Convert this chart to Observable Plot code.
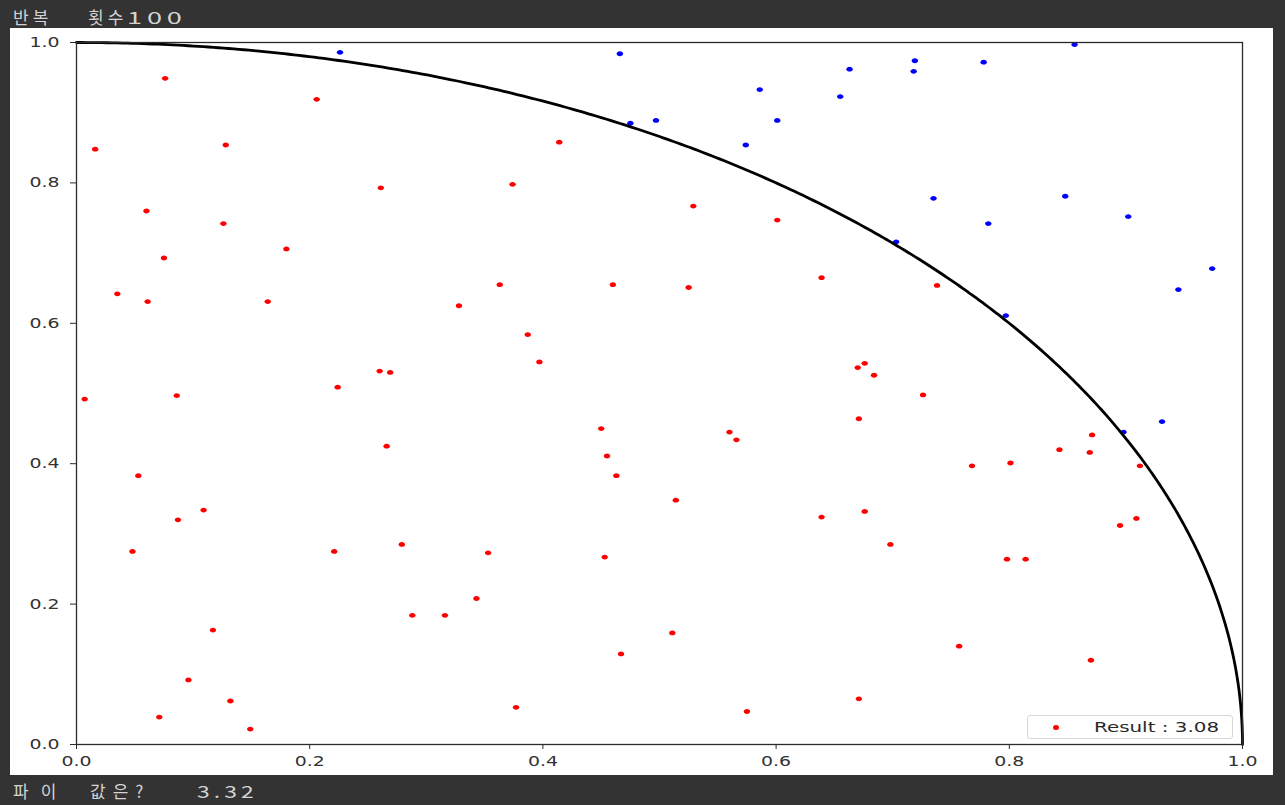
<!DOCTYPE html>
<html>
<head>
<meta charset="utf-8">
<script src="https://cdn.jsdelivr.net/npm/d3@7"></script>
<script src="https://cdn.jsdelivr.net/npm/@observablehq/plot@0.6"></script>
<style>
  html, body { margin: 0; padding: 0; }
  body { width: 1285px; height: 805px; background: #333333; position: relative; overflow: hidden;
         font-family: "Noto Sans CJK KR", "Noto Sans", sans-serif; }
  .cap { position: absolute; color: #d4d4d4; font-size: 17px; line-height: 17px; white-space: pre; }
  .wide { display: inline-block; transform: scaleX(1.6); transform-origin: 0 50%; letter-spacing: 3px; }
  #panel { position: absolute; left: 10px; top: 28px; width: 1263px; height: 747px; background: #ffffff; }
  #legend { position: absolute; left: 1017px; top: 687px; width: 204px; height: 22px;
            border: 1px solid #d6d6d6; border-radius: 3px; background: rgba(255,255,255,0.85); }
  #legend .dot { position: absolute; left: 25px; top: 9px; width: 6px; height: 5px; border-radius: 50%; background: #ff0000; }
  #legend .txt { position: absolute; left: 66px; top: 3px; font-family: "DejaVu Sans", sans-serif; font-size: 14px;
                 line-height: 16px; color: #2a2a2a; transform: scaleX(1.42); transform-origin: 0 50%; white-space: pre; }
</style>
</head>
<body>
<script>
// ---- data ----
const iterations = 100;
const shownPi = "3.32";

const insideX = [0.076,0.206,0.016,0.128,0.261,0.060,0.126,0.180,0.075,0.035,0.061,0.164,0.328,0.260,0.269,0.224,0.086,
  0.414,0.374,0.529,0.601,0.363,0.460,0.525,0.639,0.387,0.397,0.670,0.738,0.676,0.684,0.726,
  0.007,0.266,0.053,0.109,0.087,0.048,0.221,0.279,0.288,0.316,0.117,0.096,0.132,0.071,0.149,
  0.450,0.560,0.566,0.455,0.463,0.514,0.639,0.671,0.353,0.453,0.343,0.511,0.467,0.377,0.575,0.671,0.676,
  0.871,0.843,0.869,0.768,0.801,0.912,0.698,0.909,0.895,0.798,0.814,0.757,0.870];
const insideY = [0.949,0.919,0.848,0.854,0.793,0.760,0.742,0.706,0.693,0.642,0.631,0.631,0.625,0.532,0.530,0.509,0.497,
  0.858,0.798,0.767,0.747,0.655,0.655,0.651,0.665,0.584,0.545,0.537,0.654,0.543,0.526,0.498,
  0.492,0.425,0.383,0.334,0.320,0.275,0.275,0.285,0.184,0.184,0.163,0.092,0.062,0.039,0.022,
  0.450,0.445,0.434,0.411,0.383,0.348,0.324,0.464,0.273,0.267,0.208,0.159,0.129,0.053,0.047,0.065,0.332,
  0.441,0.420,0.416,0.397,0.401,0.397,0.285,0.322,0.312,0.264,0.264,0.140,0.120];

const outsideX = [0.226,0.466,0.475,0.497,0.574,0.586,0.601,0.655,0.663,0.718,0.719,0.778,0.856,
  0.735,0.782,0.848,0.902,0.703,0.797,0.945,0.974,0.898,0.931];
const outsideY = [0.986,0.984,0.885,0.889,0.854,0.933,0.889,0.923,0.962,0.959,0.974,0.972,0.997,
  0.778,0.742,0.781,0.752,0.716,0.611,0.648,0.678,0.445,0.460];

const xTicks = [0, 0.2, 0.4, 0.6, 0.8, 1.0];
const yTicks = [0, 0.2, 0.4, 0.6, 0.8, 1.0];

// ---- derived ----
const insidePts = insideX.map((x, i) => ({x, y: insideY[i]}));
const outsidePts = outsideX.map((x, i) => ({x, y: outsideY[i]}));
const resultValue = (4 * insidePts.length / iterations).toFixed(2);
// quarter of the unit circle x = cos t, y = sin t
const arcPts = d3.range(0, 361).map(k => { const t = k / 360 * Math.PI / 2; return {x: Math.cos(t), y: Math.sin(t)}; });

// small horizontal ellipse, like the stretched matplotlib "." markers
const ellipseSymbol = {draw(ctx) { const rx = 3.2, ry = 2.4, k = 0.5523;
  ctx.moveTo(rx, 0);
  ctx.bezierCurveTo(rx, k*ry, k*rx, ry, 0, ry);
  ctx.bezierCurveTo(-k*rx, ry, -rx, k*ry, -rx, 0);
  ctx.bezierCurveTo(-rx, -k*ry, -k*rx, -ry, 0, -ry);
  ctx.bezierCurveTo(k*rx, -ry, rx, -k*ry, rx, 0);
  ctx.closePath(); }};

// ---- captions ----
function addCap(left, topPx, html) {
  const el = document.createElement("div");
  el.className = "cap"; el.style.left = left + "px"; el.style.top = topPx + "px";
  el.innerHTML = html;
  document.body.appendChild(el);
}
addCap(13, 8, '<span style="letter-spacing:4px">반복</span>');
addCap(88, 8, '<span style="letter-spacing:4px">횟수</span><span class="wide">' + iterations + '</span>');
addCap(13, 782, '<span style="letter-spacing:12px">파이</span>');
addCap(90, 782, '<span style="letter-spacing:7px">값은?</span>');
addCap(197, 782, '<span class="wide" style="transform:scaleX(1.35)">' + shownPi + '</span>');

// ---- chart ----
const panel = document.createElement("div");
panel.id = "panel";
document.body.appendChild(panel);

const chart = Plot.plot({
  width: 1263,
  height: 747,
  marginLeft: 66,
  marginRight: 31,
  marginTop: 14,
  marginBottom: 31,
  style: {background: "#ffffff", fontFamily: "DejaVu Sans, sans-serif", fontSize: "14px", color: "#333333"},
  x: {domain: [0, 1]},
  y: {domain: [0, 1]},
  marks: [
    Plot.dot(insidePts, {x: "x", y: "y", fill: "#ff0000", stroke: "none", symbol: ellipseSymbol, r: 3}),
    Plot.dot(outsidePts, {x: "x", y: "y", fill: "#0000ff", stroke: "none", symbol: ellipseSymbol, r: 3}),
    Plot.line(arcPts, {x: "x", y: "y", stroke: "#000000", strokeWidth: 2.8}),
    Plot.frame({stroke: "#2b2b2b", strokeWidth: 1.3}),
    Plot.axisX({ticks: xTicks, tickFormat: d3.format(".1f"), tickSize: 5, tickPadding: 7,
      label: null, stroke: "#2b2b2b", fill: "#333333"}),
    Plot.axisY({ticks: yTicks, tickFormat: d3.format(".1f"), tickSize: 6, tickPadding: 11,
      label: null, stroke: "#2b2b2b", fill: "#333333"})
  ]
});
panel.appendChild(chart);

// widen tick labels (the reference is horizontally stretched)
chart.querySelectorAll('g[aria-label$="tick label"] text').forEach(t => {
  t.setAttribute("transform", (t.getAttribute("transform") || "") + " scale(1.35,1)");
});

// legend
const legend = document.createElement("div");
legend.id = "legend";
legend.innerHTML = '<div class="dot"></div><div class="txt">Result : ' + resultValue + '</div>';
panel.appendChild(legend);
</script>
</body>
</html>
